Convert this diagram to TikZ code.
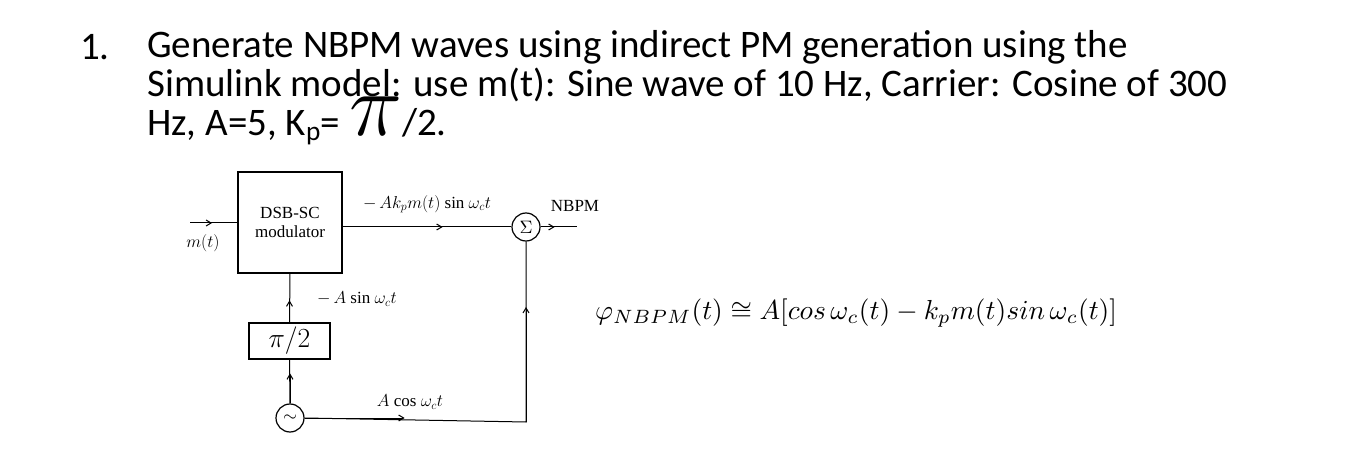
\documentclass[tikz,border=0pt]{standalone}
\usepackage{fontspec}
\usepackage{amsmath,amssymb}
\setmainfont{Carlito}
\newfontfamily\diagfont{Liberation Serif}
\usetikzlibrary{arrows.meta}
\begin{document}
\begin{tikzpicture}[x=1pt,y=-1pt,
  blk/.style={draw,line width=1.2pt,inner sep=0pt},
  circ/.style={draw,circle,line width=1.2pt,minimum size=28pt,inner sep=0pt},
  wire/.style={line width=1pt},
  arr/.style={wire,-{Straight Barb[length=5pt,width=6pt]}},
  lbl/.style={font=\diagfont\fontsize{17}{19}\selectfont},
  head/.style={font=\fontsize{39}{44}\selectfont,anchor=west,inner sep=0pt}]
\useasboundingbox (0,0) rectangle (1361,457);
\node[head] (n1) at (80,47) {1.};
\node[head] (l1) at (147,47) {Generate NBPM waves using indirect PM generation using the};
\node[head] (l2) at (147,85) {Simulink model: use m(t): Sine wave of 10 Hz, Carrier: Cosine of 300};
\node[head] (l3) at (147,121) {Hz, A=5, K$_\text{p}$= \scalebox{3.6}{$\pi$}/2.};
% diagram
\node[blk,minimum width=104pt,minimum height=101pt,align=center,lbl] (dsb) at (290,222.5) {DSB-SC\\modulator};
\node[blk,minimum width=81pt,minimum height=36pt,lbl] (ph) at (289.5,341) {\scalebox{1.6}{$\pi/2$}};
\node[circ] (osc) at (290,418) {\scalebox{1.8}{$\sim$}};
\node[circ] (sum) at (526,227) {\scalebox{1.8}{$\Sigma$}};
\coordinate (in) at (190,223);
\coordinate (out) at (577,227);
\coordinate (corner) at (526,422);
\draw[wire] (in) -- (dsb.west|-in);
\draw[arr] (in) -- ++(22,0);
\draw[wire] (dsb.east|-sum) -- (sum.west);
\draw[arr] (dsb.east|-sum) -- ++(100,0);
\draw[wire] (sum.east) -- (out);
\draw[arr] (sum.east) -- ++(14,0);
\draw[wire] (ph.north) -- (dsb.south);
\draw[arr] (ph.north) -- ++(0,-22);
\draw[wire] (osc.north) -- (ph.south);
\draw[arr] (osc.north) -- ++(0,-30);
\draw[wire] (osc.east) -- (corner) -- (sum.south);
\draw[arr] (osc.east) -- ++(100,0);
\draw[arr] (corner) -- ++(0,-115);
\node[lbl] (l_in) at (203,243) {$m(t)$};
\node[lbl] (l_top) at (427,204) {$-\,Ak_pm(t)$ sin $\omega_ct$};
\node[lbl] (l_nb) at (575,206) {NBPM};
\node[lbl] (l_sin) at (357,299) {$-\,A$ sin $\omega_ct$};
\node[lbl] (l_cos) at (410,402) {$A$ cos $\omega_ct$};
\node[anchor=west,inner sep=0pt] (eq) at (595,313)
 {\scalebox{2.75}{$\varphi_{NBPM}(t)\cong A[cos\,\omega_c(t)-k_pm(t)sin\,\omega_c(t)]$}};
\end{tikzpicture}
\end{document}
